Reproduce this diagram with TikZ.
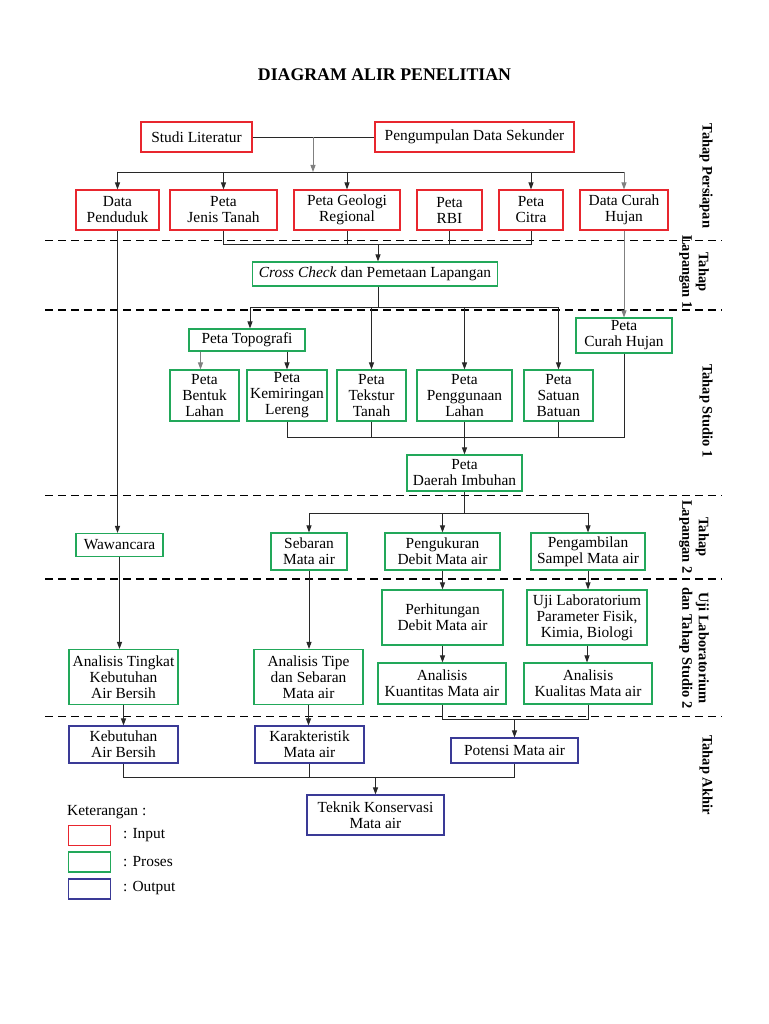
\documentclass[tikz,border=0pt]{standalone}
\usepackage{fontspec}
\setmainfont{Liberation Serif}
\usetikzlibrary{arrows.meta}
\definecolor{cin}{RGB}{232,38,46}
\definecolor{cpr}{RGB}{34,168,90}
\definecolor{cout}{RGB}{58,58,150}
\definecolor{cln}{RGB}{40,40,40}
\begin{document}
\begin{tikzpicture}[x=1pt,y=-1pt,
 every node/.style={font=\fontsize{15.4}{16}\selectfont, align=center, inner sep=0pt},
 bx/.style={draw, line width=1.1pt},
 inp/.style={bx, draw=cin},
 pro/.style={bx, draw=cpr},
 outp/.style={bx, draw=cout},
 sz/.style 2 args={minimum width=#1pt, minimum height=#2pt},
 ln/.style={draw=cln, line width=0.9pt},
 arr/.style={ln, -{Triangle[length=7pt,width=5pt]}},
 phase/.style={draw=black, line width=0.9pt, dash pattern=on 8pt off 5pt},
 phasethick/.style={phase, line width=1.6pt},
 lab/.style={rotate=-90, font=\fontsize{14.5}{16.5}\selectfont\bfseries}
]
\useasboundingbox[fill=white] (0,0) rectangle (768,1024);

% title
\node[font=\fontsize{17.8}{20}\selectfont\bfseries] (title) at (384.5,75) {DIAGRAM ALIR PENELITIAN};

% phase separators
\draw[phase] (45,240) -- (722,240);
\draw[phasethick] (45,310) -- (722,310);
\draw[phase] (45,495) -- (722,495);
\draw[phasethick] (45,579) -- (722,579);
\draw[phase] (45,716) -- (722,716);

% phase labels
\node[lab] (l1) at (706,176) {Tahap Persiapan};
\node[lab] (l2) at (694,272) {Tahap\\Lapangan 1};
\node[lab] (l3) at (706,411) {Tahap Studio 1};
\node[lab] (l4) at (694,537) {Tahap\\Lapangan 2};
\node[lab] (l5) at (694,648) {Uji Laboratorium\\dan Tahap Studio 2};
\node[lab] (l6) at (706,775) {Tahap Akhir};

% row 1
\node[inp, sz={111}{30}] (lit) at (196.5,137) {Studi Literatur};
\node[inp, sz={199}{30}] (sek) at (474.5,137) {Pengumpulan Data Sekunder};

% row 2
\node[inp, sz={83}{40}] (pend) at (117.5,210) {Data\\Penduduk};
\node[inp, sz={107}{40}] (jenis) at (223.5,210) {Peta\\Jenis Tanah};
\node[inp, sz={106}{40}] (geo) at (347,210) {Peta Geologi\\Regional};
\node[inp, sz={65}{40}] (rbi) at (449.5,210) {Peta\\RBI};
\node[inp, sz={64}{40}] (citra) at (531,210) {Peta\\Citra};
\node[inp, sz={88}{40}] (dch) at (624,210) {Data Curah\\Hujan};

% lapangan 1
\node[pro, sz={245}{24}] (cc) at (375,274) {\textit{Cross Check} dan Pemetaan Lapangan};

% studio 1
\node[pro, sz={116}{22}] (topo) at (247,340) {Peta Topografi};
\node[pro, sz={96}{35}] (pch) at (624,335.5) {Peta\\Curah Hujan};
\node[pro, sz={69}{51}] (bentuk) at (204.5,395.5) {Peta\\Bentuk\\Lahan};
\node[pro, sz={80}{51}] (kemir) at (287,395.5) {Peta\\Kemiringan\\Lereng};
\node[pro, sz={69}{51}] (tekstur) at (371.5,395.5) {Peta\\Tekstur\\Tanah};
\node[pro, sz={95}{51}] (guna) at (464.5,395.5) {Peta\\Penggunaan\\Lahan};
\node[pro, sz={69}{51}] (satuan) at (558.5,395.5) {Peta\\Satuan\\Batuan};
\node[pro, sz={115}{36}] (imbuhan) at (464.5,473) {Peta\\Daerah Imbuhan};

% lapangan 2
\node[pro, sz={87}{23}] (waw) at (119.5,545) {Wawancara};
\node[pro, sz={76}{37}] (sebaran) at (309,551.5) {Sebaran\\Mata air};
\node[pro, sz={115}{37}] (ukur) at (442.5,551.5) {Pengukuran\\Debit Mata air};
\node[pro, sz={114}{37}] (ambil) at (588,551.5) {Pengambilan\\Sampel Mata air};

% uji lab / studio 2
\node[pro, sz={121}{55}] (hitung) at (442.5,617.5) {Perhitungan\\Debit Mata air};
\node[pro, sz={120}{55}] (uji) at (587,617.5) {Uji Laboratorium\\Parameter Fisik,\\Kimia, Biologi};
\node[pro, sz={109}{55}] (atk) at (123.5,677) {Analisis Tingkat\\Kebutuhan\\Air Bersih};
\node[pro, sz={109}{55}] (atipe) at (308.5,677) {Analisis Tipe\\dan Sebaran\\Mata air};
\node[pro, sz={128}{41}] (kuan) at (442,683.5) {Analisis\\Kuantitas Mata air};
\node[pro, sz={128}{41}] (kual) at (588,683.5) {Analisis\\Kualitas Mata air};

% akhir
\node[outp, sz={109}{37}] (keb) at (123.5,744.5) {Kebutuhan\\Air Bersih};
\node[outp, sz={109}{37}] (kar) at (309.5,744.5) {Karakteristik\\Mata air};
\node[outp, sz={127}{25}] (pot) at (514.5,750.5) {Potensi Mata air};
\node[outp, sz={137}{40}] (tek) at (375.5,815) {Teknik Konservasi\\Mata air};

% legend
\node[anchor=west] (ket) at (67,812) {Keterangan :};
\node[inp, sz={42}{20}] (lin) at (89.5,835.5) {};
\node[anchor=west] (tin) at (123,835) {: Input};
\node[pro, sz={42}{20}] (lpr) at (89.5,862) {};
\node[anchor=west] (tpr) at (123,861.5) {: Proses};
\node[outp, sz={42}{20}] (lout) at (89.5,889) {};
\node[anchor=west] (tout) at (123,888) {: Output};

% connectors: persiapan
\coordinate (s1) at (313,137);
\coordinate (b1) at (313,172);
\draw[ln] (lit.east) -- (sek.west);
\draw[arr, draw=gray] (s1) -- (b1);
\draw[ln] (pend.north |- b1) -- (dch.north |- b1);
\foreach \n in {pend,jenis,geo,citra} \draw[arr] (\n.north |- b1) -- (\n.north);
\draw[arr, draw=gray] (dch.north |- b1) -- (dch.north);

\coordinate (b2) at (378,244);
\draw[ln] (jenis.south) -- (jenis.south |- b2) -- (citra.south |- b2) -- (citra.south);
\draw[ln] (geo.south) -- (geo.south |- b2);
\draw[ln] (rbi.south) -- (rbi.south |- b2);
\draw[arr] (b2) -- (b2 |- cc.north);

\draw[arr] (pend.south) -- (pend.south |- waw.north);
\draw[arr, draw=gray] (dch.south) -- (pch.north);

% studio 1
\coordinate (c3) at (378,307);
\coordinate (t3) at (250,307);
\draw[ln] (c3 |- cc.south) -- (c3);
\draw[ln] (t3) -- (satuan.north |- t3);
\draw[arr] (t3) -- (t3 |- topo.north);
\foreach \n in {tekstur,guna,satuan} \draw[arr] (\n.north |- t3) -- (\n.north);
\draw[arr, draw=gray] ([xshift=-4pt]bentuk.north |- topo.south) -- ([xshift=-4pt]bentuk.north);
\draw[arr] (kemir.north |- topo.south) -- (kemir.north);

\coordinate (b4) at (464.5,437);
\draw[ln] (kemir.south) -- (kemir.south |- b4) -- (b4 -| pch.south) -- (pch.south);
\draw[ln] (tekstur.south) -- (tekstur.south |- b4);
\draw[ln] (satuan.south) -- (satuan.south |- b4);
\draw[arr] (guna.south) -- (imbuhan.north);

% lapangan 2
\coordinate (b5) at (464.5,513);
\draw[ln] (imbuhan.south) -- (imbuhan.south |- b5);
\draw[ln] (sebaran.north |- b5) -- (ambil.north |- b5);
\foreach \n in {sebaran,ukur,ambil} \draw[arr] (\n.north |- b5) -- (\n.north);

\draw[arr] (ukur.south) -- (hitung.north);
\draw[arr] (ambil.south) -- (ambil.south |- uji.north);
\draw[arr] (sebaran.south) -- (sebaran.south |- atipe.north);
\draw[arr] (waw.south) -- (waw.south |- atk.north);
\draw[arr] (hitung.south) -- (hitung.south |- kuan.north);
\draw[arr] (uji.south) -- (uji.south |- kual.north);
\draw[arr] (atk.south) -- (keb.north);
\draw[arr] (atipe.south) -- (atipe.south |- kar.north);

% akhir
\coordinate (b6) at (514.5,719);
\draw[ln] (kuan.south) -- (kuan.south |- b6) -- (kual.south |- b6) -- (kual.south);
\draw[arr] (b6) -- (b6 |- pot.north);

\coordinate (b7) at (375.5,777);
\draw[ln] (keb.south) -- (keb.south |- b7) -- (pot.south |- b7) -- (pot.south);
\draw[ln] (kar.south) -- (kar.south |- b7);
\draw[arr] (b7) -- (tek.north);
\end{tikzpicture}
\end{document}
